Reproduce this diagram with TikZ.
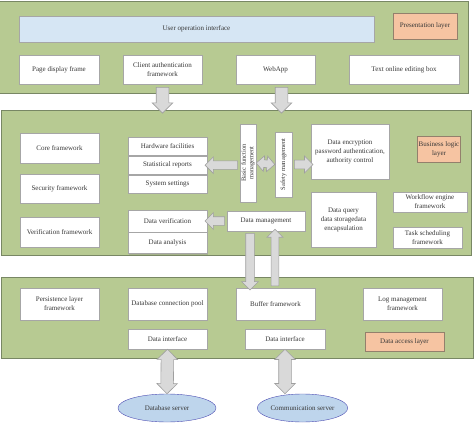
\documentclass[tikz,border=0pt]{standalone}
\usepackage{fontspec}
\setmainfont{Liberation Serif}
\usetikzlibrary{calc,shapes.geometric,shapes.arrows,shadows,positioning}

\definecolor{layergreen}{RGB}{183,202,146}
\definecolor{layerline}{RGB}{120,135,100}
\definecolor{tagorange}{RGB}{246,196,162}
\definecolor{uiblue}{RGB}{214,230,244}
\definecolor{serverblue}{RGB}{190,213,236}
\definecolor{textgray}{RGB}{55,55,55}

\tikzset{
  layer/.style={draw=layerline, fill=layergreen, line width=0.8pt, anchor=north west, inner sep=0pt},
  box/.style={draw=gray!70, fill=white, text=textgray, align=center, inner sep=1pt,
    drop shadow={shadow xshift=1pt, shadow yshift=-1pt, opacity=.3}},
  tag/.style={box, fill=tagorange, draw=gray!70!brown},
  vbox/.style={draw=gray!70, fill=white, text=textgray, align=center, inner sep=0.5pt,
    rotate=90, font=\fontsize{6.5}{7.5}\selectfont},
  server/.style={ellipse, draw=gray!60!blue, fill=serverblue, text=textgray, inner sep=0pt},
  fat/.style={single arrow, draw=gray!75, fill=gray!30, line width=0.6pt, inner xsep=0pt,
    inner ysep=6pt, minimum width=20pt, single arrow head extend=4pt},
  twofat/.style={fat, double arrow, double arrow head extend=4pt},
}

% fat arrow between two points
\newcommand\fatarrow[3][]{\path let \p1=#2, \p2=#3, \n1={veclen(\x2-\x1,\y2-\y1)},
  \n2={atan2(\y2-\y1,\x2-\x1)} in node[fat,#1,minimum height=\n1,rotate=\n2] at ($(\p1)!0.5!(\p2)$) {};}

\begin{document}
\begin{tikzpicture}[x=1pt, y=-1pt, font=\fontsize{7}{9}\selectfont]
\useasboundingbox (0,0) rectangle (474,425);
% layers
\node[layer, minimum width=470pt, minimum height=92pt] (lay1) at (-2,1) {};
\node[layer, minimum width=470.5pt, minimum height=145pt] (lay2) at (0.5,110) {};
\node[layer, minimum width=472.5pt, minimum height=81pt] (lay3) at (0.5,277) {};

% presentation layer
\node[box, fill=uiblue, minimum width=355pt, minimum height=26pt] (ui) at (196.5,29) {User operation interface};
\node[tag, minimum width=64pt, minimum height=26pt] (pres) at (425,26) {Presentation layer};
\node[box, minimum width=80pt, minimum height=29pt] (page) at (59,69.5) {Page display frame};
\node[box, minimum width=79pt, minimum height=29pt] (client) at (162.5,69.5) {Client authentication\\framework};
\node[box, minimum width=79pt, minimum height=29pt] (webapp) at (275.5,69.5) {WebApp};
\node[box, minimum width=110pt, minimum height=29pt] (textbox) at (404,69.5) {Text online editing box};

% business logic layer
\node[box, minimum width=79pt, minimum height=30pt] (core) at (59.5,148) {Core framework};
\node[box, minimum width=79pt, minimum height=29pt] (security) at (59.5,188.5) {Security framework};
\node[box, minimum width=79pt, minimum height=30pt] (verif) at (59.5,232) {Verification framework};
\node[box, minimum width=79pt, minimum height=18.5pt] (hw) at (167.5,146.25) {Hardware facilities};
\node[box, minimum width=79pt, minimum height=18.5pt, below=0pt of hw] (stat) {Statistical reports};
\node[box, minimum width=79pt, minimum height=18.5pt, below=0pt of stat] (sys) {System settings};
\node[box, minimum width=79pt, minimum height=21.5pt] (dver) at (167.5,221) {Data verification};
\node[box, minimum width=79pt, minimum height=21.5pt, below=0pt of dver] (danal) {Data analysis};
\node[vbox, minimum width=78pt, minimum height=16pt] (basic) at (248,163) {Basic function\\management};
\node[vbox, minimum width=65pt, minimum height=17pt] (safety) at (283.5,164.5) {Safety management};
\node[box, minimum width=78pt, minimum height=55pt] (enc) at (350,151.5) {Data encryption\\password authentication,\\authority control};
\node[box, minimum width=65pt, minimum height=55pt] (query) at (343.5,219.5) {Data query\\data storagedata\\encapsulation};
\node[box, minimum width=78pt, minimum height=20pt] (dmgmt) at (266,221) {Data management};
\node[tag, minimum width=40pt, minimum height=26pt] (blogic) at (439,149) {Business logic\\layer};
\node[box, minimum width=74pt, minimum height=20pt] (workflow) at (430,202) {Workflow engine\\framework};
\node[box, minimum width=69pt, minimum height=21pt] (task) at (427.5,237.5) {Task scheduling\\framework};

% data access layer
\node[box, minimum width=79pt, minimum height=32pt] (persist) at (59.5,304) {Persistence layer\\framework};
\node[box, minimum width=79pt, minimum height=32pt] (pool) at (167.5,304) {Database connection pool};
\node[box, minimum width=79pt, minimum height=20pt] (di1) at (167.5,339) {Data interface};
\node[box, minimum width=79pt, minimum height=32pt] (buffer) at (275.5,304) {Buffer framework};
\node[box, minimum width=80pt, minimum height=20pt] (di2) at (285,339) {Data interface};
\node[box, minimum width=79pt, minimum height=32pt] (log) at (402.5,304) {Log management\\framework};
\node[tag, minimum width=79pt, minimum height=19pt] (dal) at (404.5,341.5) {Data access layer};

% servers
\node[server, minimum width=98pt, minimum height=28pt] (db) at (167,408) {Database server};
\node[server, minimum width=85pt, minimum height=28pt] (comm) at (302.5,408) {Communication server};

% arrows
\fatarrow{(client.south)}{(client.south |- lay2.north)}
\fatarrow{([xshift=6pt]webapp.south)}{([xshift=6pt]webapp.south |- lay2.north)}
\fatarrow[minimum width=15pt, inner ysep=4pt]{(stat.east -| basic.north)}{(stat.east)}
\fatarrow[twofat, minimum width=14pt, inner ysep=3.5pt]{(basic.south)}{(safety.north)}
\fatarrow[minimum width=17pt, inner ysep=4pt]{(safety.south)}{(enc.west |- safety.south)}
\fatarrow[minimum width=15pt, inner ysep=4pt]{(dmgmt.west)}{(dver.east)}
\fatarrow[minimum width=16pt, inner ysep=4pt]{([xshift=-16pt]dmgmt.south)}{([xshift=-16pt]dmgmt.south |- buffer.north)}
\fatarrow[minimum width=16pt, inner ysep=3.5pt]{([xshift=9pt]dmgmt.south |- buffer.north)}{([xshift=9pt]dmgmt.south)}
\fatarrow[twofat]{(di1.south)}{(db.north)}
\fatarrow[twofat]{(di2.south)}{(di2.south |- comm.north)}
\end{tikzpicture}
\end{document}
